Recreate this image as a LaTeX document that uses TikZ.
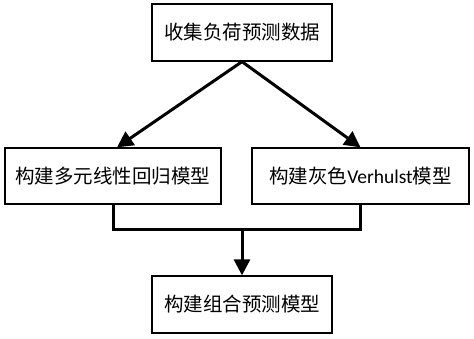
\documentclass[tikz,border=0pt]{standalone}
\usepackage{fontspec}
\setmainfont{Carlito}
\newfontfamily\cjk{Noto Sans CJK SC}
\usetikzlibrary{arrows.meta, positioning}

\begin{document}
\begin{tikzpicture}[x=1pt, y=1pt,
    stepbox/.style={draw, line width=1.3pt, inner sep=0pt,
        font=\fontsize{19.5}{22}\selectfont},
    flow/.style={line width=3pt, -{Triangle[length=16pt, width=16pt]}}]

    \useasboundingbox (0,0) rectangle (474,-338);

    % ==========================================
    % 1. BOXES
    % ==========================================
    \node[stepbox, minimum width=180pt, minimum height=57pt] (collect) at (242,-32.5)
        {\cjk 收集负荷预测数据};
    \node[stepbox, minimum width=216pt, minimum height=56pt] (mlr) at (113,-176)
        {\cjk 构建多元线性回归模型};
    \node[stepbox, minimum width=217pt, minimum height=56pt] (grey) at (360.5,-176)
        {{\cjk 构建灰色}Verhulst{\cjk 模型}};
    \node[stepbox, minimum width=180pt, minimum height=57pt] (combine) at (242,-304.5)
        {\cjk 构建组合预测模型};

    % ==========================================
    % 2. CONNECTORS
    % ==========================================
    \coordinate (split) at (collect.south);
    \coordinate (join) at (242,-229);
    \draw[flow] (split) -- ([xshift=4pt]mlr.north);
    \draw[flow] (split) -- (grey.north);

    \draw[line width=3pt] (mlr.south) |- (join) -| (grey.south);
    \draw[flow] (join) -- (combine.north);

\end{tikzpicture}
\end{document}
